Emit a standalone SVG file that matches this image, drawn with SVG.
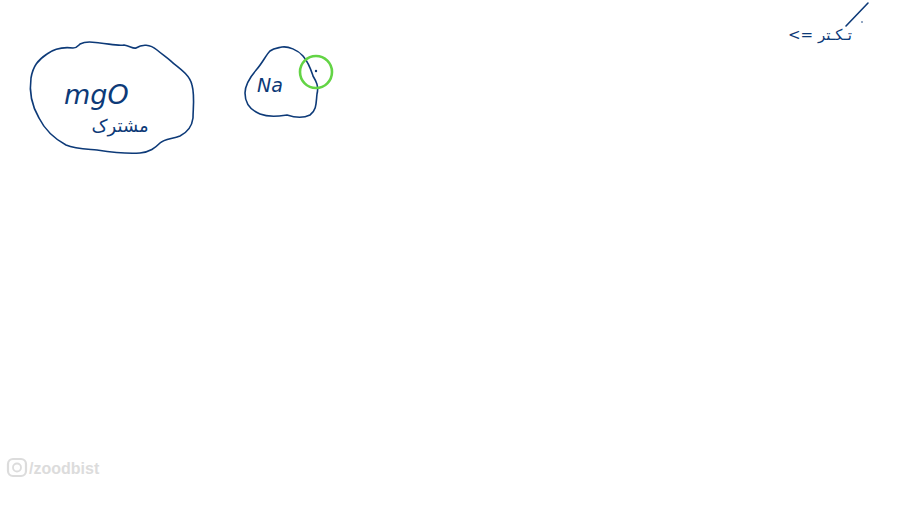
<svg xmlns="http://www.w3.org/2000/svg" width="900" height="506" viewBox="0 0 900 506">
<style>
.ink{fill:none;stroke:#0d3a78;stroke-width:1.6;stroke-linecap:round;stroke-linejoin:round}
.hw{fill:#0d3a78;font-family:"DejaVu Sans","Noto Sans",sans-serif;font-style:italic}
.fa{fill:#0d3a78;font-family:"DejaVu Sans","Noto Sans",sans-serif}
</style>
<rect width="900" height="506" fill="#ffffff"/>
<g id="mgo-blob">
<path class="ink" d="M80,44 C88,40 95,43 100,43 C110,44 118,46 124,45 C130,46 133,49 136,48 C142,44 150,44 157,50 C163,55 168,58 173,63 C182,70 190,76 192,85 C195,96 193,108 193,118 C192,126 188,132 180,136 C172,139 164,139 160,143 C155,148 150,152 140,153 C128,154 110,152 97,150 C85,149 75,149 66,145 C55,139 45,130 39,118 C32,106 29,92 31,78 C33,66 38,60 47,54 C55,48 65,47 73,48 C77,48 78,46 80,44 Z"/>
<text class="hw" x="64" y="104" font-size="27" font-style="normal">mgO</text>
<text class="fa" x="120" y="132" font-size="18" text-anchor="middle" direction="rtl">مشترک</text>
</g>
<g id="na-blob">
<path class="ink" d="M282,47 C288,46 298,50 303,56 C309,63 311,70 313,76 C316,81 319,86 317,94 C316,102 317,110 310,115 C302,119 293,117 287,115 C280,116 270,118 260,114 C250,110 245,102 245,93 C245,85 250,77 257,69 C263,62 266,55 270,51 C274,48 278,48 282,47 Z"/>
<text class="hw" x="257" y="92" font-size="19">Na</text>
<circle cx="316" cy="72" r="16" fill="none" stroke="#63d445" stroke-width="2.6"/>
<circle cx="316" cy="71" r="1.2" fill="#0d3a78"/>
</g>
<g id="note">
<text class="fa" x="852" y="40" font-size="15" text-anchor="end" direction="ltr">&lt;= تـکـتر</text>
<path class="ink" d="M846,26 L868,3"/>
<circle cx="862" cy="22" r="0.8" fill="#0d3a78"/>
</g>
<g id="watermark" opacity="0.9">
<rect x="8" y="459" width="18" height="17" rx="5" fill="none" stroke="#d9d9d9" stroke-width="2.2"/>
<circle cx="17" cy="467.5" r="4" fill="none" stroke="#d9d9d9" stroke-width="1.8"/>
<text x="29" y="474" font-family="'Liberation Sans',Arial,sans-serif" font-weight="bold" font-size="16" fill="#d9d9d9">/zoodbist</text>
</g>
</svg>
